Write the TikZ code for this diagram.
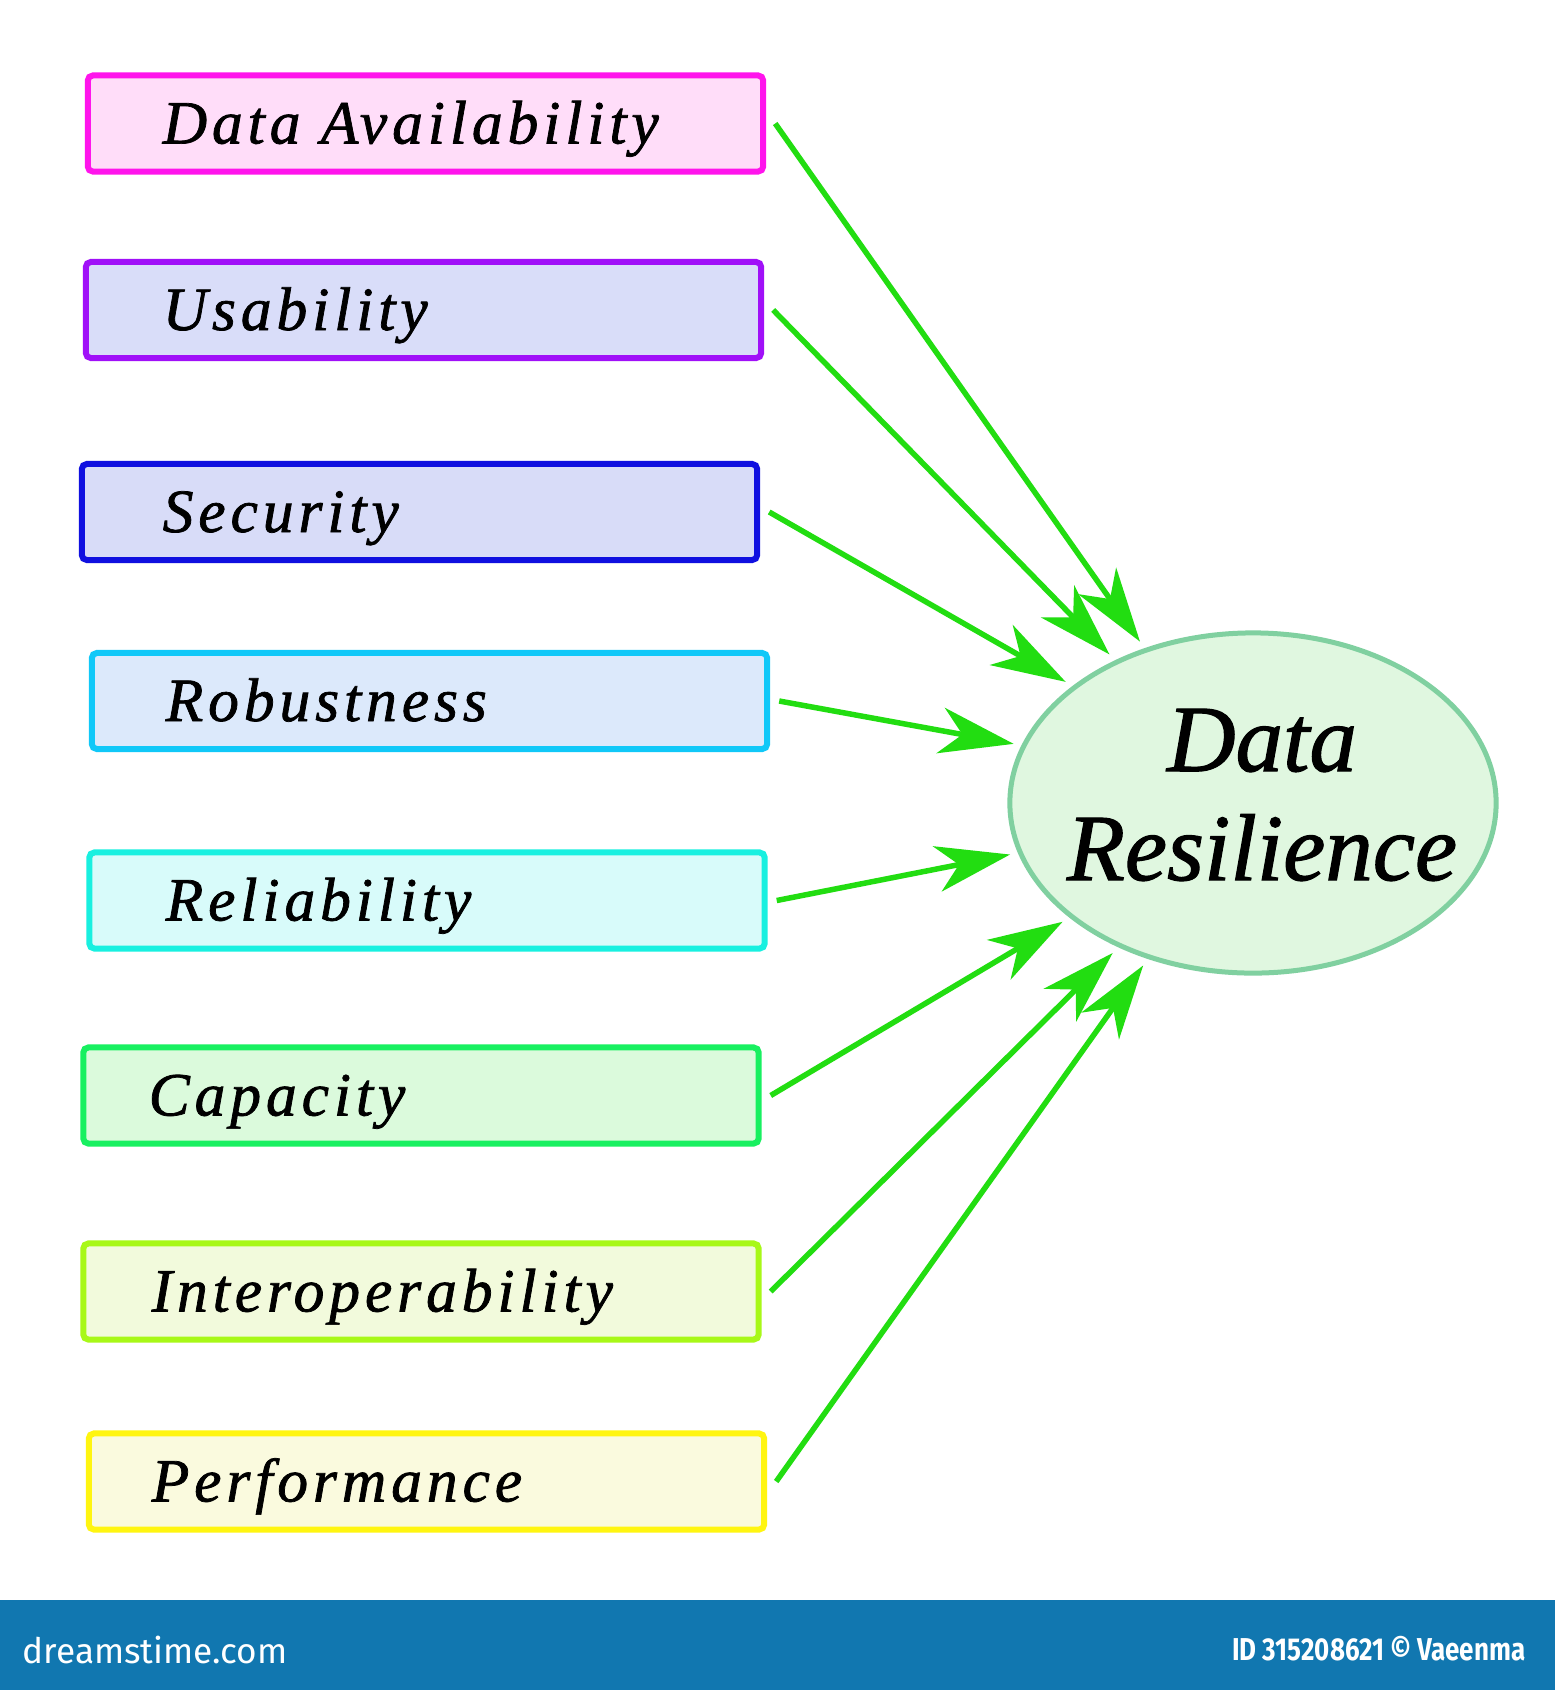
\documentclass[tikz,border=0pt]{standalone}
\usepackage{fontspec}
\usepackage{graphicx}
\setmainfont{Liberation Serif}
\newfontfamily\boxfont[LetterSpace=8,FakeBold=1.2]{Liberation Serif}
\newfontfamily\ovalfont[FakeBold=1.2]{Liberation Serif}
\newfontfamily\barfont{Fira Sans}
\usetikzlibrary{arrows.meta,shapes.geometric}

\definecolor{arrowgreen}{HTML}{22DD11}
\definecolor{magentaline}{HTML}{FF14EC}
\definecolor{magentafill}{HTML}{FFDDF9}
\definecolor{purpleline}{HTML}{A010F8}
\definecolor{purplefill}{HTML}{D9DDF9}
\definecolor{blueline}{HTML}{1010E0}
\definecolor{bluefill}{HTML}{D8DCF8}
\definecolor{skyline}{HTML}{10C8F8}
\definecolor{skyfill}{HTML}{DCE9FB}
\definecolor{cyanline}{HTML}{18F0E0}
\definecolor{cyanfill}{HTML}{D8FBFA}
\definecolor{greenline}{HTML}{18F060}
\definecolor{greenfill}{HTML}{DBFADC}
\definecolor{limeline}{HTML}{A8F818}
\definecolor{limefill}{HTML}{F2FADC}
\definecolor{yellowline}{HTML}{FFF510}
\definecolor{yellowfill}{HTML}{FAFADE}
\definecolor{ovalline}{HTML}{80D0A0}
\definecolor{ovalfill}{HTML}{E0F7E0}
\definecolor{barblue}{HTML}{1177B0}

\tikzset{
  factor/.style={draw, line width=0.06cm, rounded corners=0.05cm, minimum width=6.75cm, minimum height=0.96cm, inner sep=0pt},
  factortext/.style={anchor=base west, inner sep=0pt, font=\boxfont\itshape\fontsize{17.5}{20}\selectfont},
  link/.style={draw=arrowgreen, line width=0.055cm, -{Stealth[length=0.74cm, width=0.46cm, inset=0.22cm]}, shorten >=0.08cm},
}

\begin{document}
\begin{tikzpicture}[x=0.01cm, y=-0.01cm]
			%%%%% START %%%%%
			\useasboundingbox (0,0) rectangle (1555,1690);
			\fill[white] (0,0) rectangle (1555,1690);
			
			\node[factor, draw=magentaline, fill=magentafill] (avail) at (425.5,123.5) {};
			\node[factortext] (availtext) at (162,143.5) {Data Availability};
			
			\node[factor, draw=purpleline, fill=purplefill] (usab) at (423.5,310) {};
			\node[factortext] (usabtext) at (162,330) {Usability};
			
			\node[factor, draw=blueline, fill=bluefill] (secur) at (419.5,512) {};
			\node[factortext] (securtext) at (162,532) {Security};
			
			\node[factor, draw=skyline, fill=skyfill] (robust) at (429.5,701) {};
			\node[factortext] (robusttext) at (165,721) {Robustness};
			
			\node[factor, draw=cyanline, fill=cyanfill] (reliab) at (427,900.5) {};
			\node[factortext] (reliabtext) at (165,920.5) {Reliability};
			
			\node[factor, draw=greenline, fill=greenfill] (capac) at (421,1095.5) {};
			\node[factortext] (capactext) at (148,1115.5) {Capacity};
			
			\node[factor, draw=limeline, fill=limefill] (interop) at (421,1291.5) {};
			\node[factortext] (interoptext) at (151,1311.5) {Interoperability};
			
			\node[factor, draw=yellowline, fill=yellowfill] (perf) at (426.5,1481.5) {};
			\node[factortext] (perftext) at (151,1501.5) {Performance};
			
			\node[ellipse, draw=ovalline, fill=ovalfill, line width=0.05cm, minimum width=4.86cm, minimum height=3.4cm, inner sep=0pt] (res) at (1253,803) {};
			\node[font=\ovalfont\itshape\fontsize{27}{31}\selectfont, align=center, inner sep=0pt] (restext) at (1262,795) {Data\\Resilience};
			
			\draw[link] ([xshift=0.09cm]avail.east) -- (res.125);
			\draw[link] ([xshift=0.09cm]usab.east) -- (res.134);
			\draw[link] ([xshift=0.09cm]secur.east) -- (res.147);
			\draw[link] ([xshift=0.09cm]robust.east) -- (res.166);
			\draw[link] ([xshift=0.09cm]reliab.east) -- (res.192);
			\draw[link] ([xshift=0.09cm]capac.east) -- (res.212);
			\draw[link] ([xshift=0.09cm]interop.east) -- (res.227);
			\draw[link] ([xshift=0.09cm]perf.east) -- (res.236);
			
			\fill[barblue] (0,1600) rectangle (1555,1690);
			\node[anchor=base west, text=white, font=\barfont\fontsize{10}{12}\selectfont, inner sep=0pt] (sitename) at (22,1663) {dreamstime.com};
			\node[anchor=base east, text=white, font=\barfont\bfseries\fontsize{9}{11}\selectfont, inner sep=0pt] (imageid) at (1526,1660) {\scalebox{0.82}[1]{ID 315208621 © Vaeenma}};
			%%%%% END %%%%%
\end{tikzpicture}
\end{document}
